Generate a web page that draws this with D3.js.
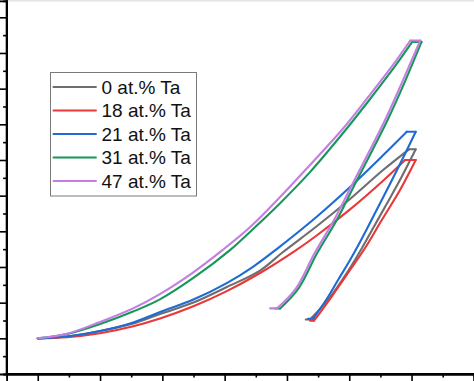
<!DOCTYPE html>
<html><head><meta charset="utf-8">
<script src="https://cdn.jsdelivr.net/npm/d3@7"></script>
<style>html,body{margin:0;padding:0;background:#fff;overflow:hidden}</style>
</head><body><svg id="c" width="474" height="381"></svg>
<script>
// Series names and colours
const seriesNames = ["0 at.% Ta", "18 at.% Ta", "21 at.% Ta", "31 at.% Ta", "47 at.% Ta"];
const seriesColors = ["#6e6e6e", "#e8383a", "#1f6bd2", "#17985a", "#c47ee2"];

// Loading branches (displacement nm, load mN)
const load0X  = [0, 46.5, 100, 153.4, 196.3, 249.8, 303.4, 356.8, 393.7, 448.3, 501.3, 554.3, 596.0];
const load0Y  = [0, 0.05, 0.205, 0.415, 0.681, 1.004, 1.438, 1.901, 2.419, 3.148, 3.905, 4.718, 5.299];
const load18X = [0, 46.5, 100, 153.4, 196.3, 249.8, 303.4, 356.8, 413.0, 448.3, 501.3, 554.3, 589.6];
const load18Y = [0, 0.031, 0.143, 0.339, 0.555, 0.897, 1.323, 1.831, 2.453, 2.890, 3.614, 4.418, 4.999];
const load21X = [0, 46.5, 100, 153.4, 196.3, 249.8, 303.4, 346.1, 383.6, 447.8, 501.3, 554.7, 592.3];
const load21Y = [0, 0.05, 0.205, 0.446, 0.737, 1.088, 1.550, 2.013, 2.503, 3.409, 4.242, 5.139, 5.792];
const load31X = [0, 47, 100, 153, 196, 252, 309, 341, 389, 437, 494, 533.4, 573.5, 601];
const load31Y = [0, 0.12, 0.40, 0.75, 1.09, 1.72, 2.48, 2.99, 3.79, 4.66, 5.84, 6.71, 7.63, 8.31];
const load47X = [0, 47, 100, 153, 196, 248, 297, 341, 389, 437, 488, 530.2, 568.7, 598];
const load47Y = [0, 0.13, 0.46, 0.84, 1.24, 1.83, 2.48, 3.12, 3.96, 4.86, 5.84, 6.76, 7.63, 8.35];

// Unloading branches (start after peak hold), last point = end of final hold
const unload0X  = [606.7, 583.1, 559.1, 536.6, 520.5, 498.1, 469.2, 437.1, 430.2];
const unload0Y  = [5.299, 4.494, 3.737, 3.036, 2.532, 1.887, 1.158, 0.527, 0.527];
const unload18X = [606.7, 581.5, 552.2, 525.4, 501.3, 472.4, 443.5, 437.1];
const unload18Y = [4.999, 4.158, 3.317, 2.532, 1.915, 1.186, 0.493, 0.493];
const unload21X = [606.7, 576.7, 539.8, 517.3, 501.3, 482.0, 462.8, 441.9, 433.9];
const unload21Y = [5.792, 4.718, 3.457, 2.700, 2.196, 1.635, 1.074, 0.548, 0.548];
const unload31X = [616, 590.4, 561.5, 507, 480, 448.3, 418.6, 388.9, 381];
const unload31Y = [8.31, 7.24, 6.12, 4.25, 3.317, 2.383, 1.402, 0.835, 0.835];
const unload47X = [614, 586.4, 557.5, 502.9, 475.6, 444.3, 414.6, 384.1, 373];
const unload47Y = [8.35, 7.241, 6.12, 4.25, 3.317, 2.383, 1.402, 0.841, 0.841];

const loadsX = [load0X, load18X, load21X, load31X, load47X];
const loadsY = [load0Y, load18Y, load21Y, load31Y, load47Y];
const unloadsX = [unload0X, unload18X, unload21X, unload31X, unload47X];
const unloadsY = [unload0Y, unload18Y, unload21Y, unload31Y, unload47Y];

const xMajor = [0, 100, 200, 300, 400, 500, 600, 700];
const xMinor = [50, 150, 250, 350, 450, 550, 650];
const yMajor = [0, 1, 2, 3, 4, 5, 6, 7, 8, 9];
const yMinor = [-0.5, 0.5, 1.5, 2.5, 3.5, 4.5, 5.5, 6.5, 7.5, 8.5];

const svg = d3.select("#c");
const x = d3.scaleLinear().domain([-50, 700]).range([6.6, 473.85]);
const y = d3.scaleLinear().domain([-1, 9.46]).range([374, 0.9]);

// faint top border
svg.append("rect").attr("x", 0).attr("y", 0).attr("width", 474).attr("height", 1.6).attr("fill", "#e4e4e4");

// axes
const gx = svg.append("g").attr("transform", "translate(0,374)");
gx.call(d3.axisBottom(x).tickValues(xMajor).tickSize(7).tickFormat(""));
gx.append("g").call(d3.axisBottom(x).tickValues(xMinor).tickSize(3.5).tickFormat(""));
const gy = svg.append("g").attr("transform", "translate(6.6,0)");
gy.call(d3.axisLeft(y).tickValues(yMajor).tickSize(7).tickFormat(""));
gy.append("g").call(d3.axisLeft(y).tickValues(yMinor).tickSize(3.5).tickFormat(""));
svg.selectAll(".domain").attr("stroke", "#000").attr("stroke-width", 1.8);
svg.selectAll(".tick line").attr("stroke", "#000").attr("stroke-width", 1.6);
svg.append("line").attr("x1", 6.6).attr("x2", 6.6).attr("y1", 0).attr("y2", 374.9).attr("stroke", "#000").attr("stroke-width", 1.8);
svg.append("line").attr("x1", 5.7).attr("x2", 474).attr("y1", 374).attr("y2", 374).attr("stroke", "#000").attr("stroke-width", 1.8);

const curveLine = d3.line().x(d => x(d[0])).y(d => y(d[1])).curve(d3.curveCatmullRom.alpha(0.5));
const straight = d3.line().x(d => x(d[0])).y(d => y(d[1]));

const g = svg.append("g").attr("fill", "none").attr("stroke-width", 2.1)
  .attr("stroke-linejoin", "round").attr("stroke-linecap", "round");

seriesNames.forEach((name, i) => {
  const lp = loadsX[i].map((v, k) => [v, loadsY[i][k]]);
  const up = unloadsX[i].map((v, k) => [v, unloadsY[i][k]]);
  const peak = lp[lp.length - 1];
  const main = up.slice(0, up.length - 1);
  const endHold = up.slice(up.length - 2);
  const col = seriesColors[i];
  g.append("path").attr("d", curveLine(lp)).attr("stroke", col);
  g.append("path").attr("d", straight([peak, up[0]])).attr("stroke", col);
  g.append("path").attr("d", curveLine(main)).attr("stroke", col);
  g.append("path").attr("d", straight(endHold)).attr("stroke", col);
});

// legend
const lg = svg.append("g");
lg.append("rect").attr("x", 50.5).attr("y", 72.5).attr("width", 146).attr("height", 123.5)
  .attr("fill", "#fff").attr("stroke", "#7a7a7a").attr("stroke-width", 1);
seriesNames.forEach((name, i) => {
  const cy = 87 + i * 23.5;
  lg.append("line").attr("x1", 52.7).attr("x2", 96.7).attr("y1", cy).attr("y2", cy)
    .attr("stroke", seriesColors[i]).attr("stroke-width", 2.1);
  lg.append("text").attr("x", 101.5).attr("y", cy + 6.6).text(name)
    .attr("font-family", "Liberation Sans, Arial, sans-serif").attr("font-size", 19).attr("fill", "#111");
});
</script></body></html>
